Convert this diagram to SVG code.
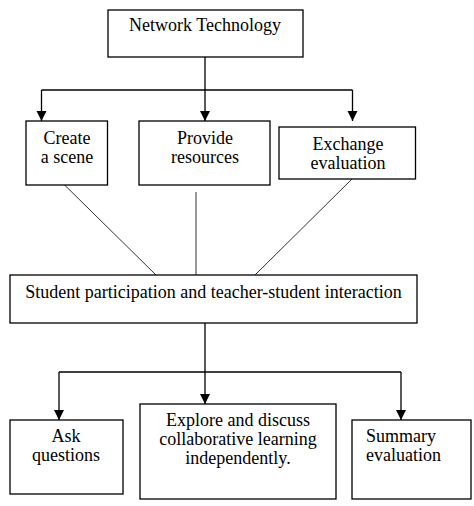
<svg xmlns="http://www.w3.org/2000/svg" width="474" height="506" viewBox="0 0 474 506">
<defs>
<marker id="arr" markerWidth="10" markerHeight="11" refX="10" refY="5" orient="auto" markerUnits="userSpaceOnUse">
<path d="M0,0 L10,5 L0,10 Z" fill="#000"/>
</marker>
<style>
.box{fill:#fff;stroke:#000;stroke-width:1.3}
.t{font-family:"Liberation Serif","Times New Roman",serif;font-size:18px;fill:#000;text-anchor:middle}
.c{fill:none;stroke:#000;stroke-width:1.3}
.d{fill:none;stroke:#333;stroke-width:1}
</style>
</defs>
<rect width="474" height="506" fill="#fff"/>
<g id="connectors">
<path class="c" d="M205,57 V90"/>
<path class="c" d="M41.5,90 H352.5"/>
<path class="c" d="M41.5,90 V121" marker-end="url(#arr)"/>
<path class="c" d="M205,90 V121" marker-end="url(#arr)"/>
<path class="c" d="M352.5,90 V121" marker-end="url(#arr)"/>
<path class="d" d="M58.5,179 L156,275"/>
<path class="d" d="M196,192 V275"/>
<path class="d" d="M352,179 L255,275"/>
<path class="c" d="M205,323 V372"/>
<path class="c" d="M59,372 H401"/>
<path class="c" d="M59,372 V420" marker-end="url(#arr)"/>
<path class="c" d="M205,372 V404" marker-end="url(#arr)"/>
<path class="c" d="M401,372 V420" marker-end="url(#arr)"/>
</g>
<g id="n-network">
<rect class="box" x="108" y="10" width="195" height="47"/>
<text class="t" x="205" y="31">Network Technology</text>
</g>
<g id="n-create">
<rect class="box" x="26" y="121" width="81.5" height="64"/>
<text class="t" x="67" y="144">Create</text>
<text class="t" x="67" y="163">a scene</text>
</g>
<g id="n-provide">
<rect class="box" x="139" y="121" width="131" height="64"/>
<text class="t" x="205" y="144">Provide</text>
<text class="t" x="205" y="163">resources</text>
</g>
<g id="n-exchange">
<rect class="box" x="279" y="127" width="136.5" height="52"/>
<text class="t" x="348" y="150">Exchange</text>
<text class="t" x="348" y="169">evaluation</text>
</g>
<g id="n-student">
<rect class="box" x="10" y="275" width="407" height="48"/>
<text class="t" x="213.5" y="298">Student participation and teacher-student interaction</text>
</g>
<g id="n-ask">
<rect class="box" x="10" y="420" width="113" height="74"/>
<text class="t" x="66" y="442">Ask</text>
<text class="t" x="66" y="461">questions</text>
</g>
<g id="n-explore">
<rect class="box" x="140" y="404" width="196" height="95"/>
<text class="t" x="238" y="426">Explore and discuss</text>
<text class="t" x="238" y="445">collaborative learning</text>
<text class="t" x="238" y="464">independently.</text>
</g>
<g id="n-summary">
<rect class="box" x="352" y="420" width="119" height="79"/>
<text class="t" x="366" y="442" style="text-anchor:start">Summary</text>
<text class="t" x="366" y="461" style="text-anchor:start">evaluation</text>
</g>
</svg>
